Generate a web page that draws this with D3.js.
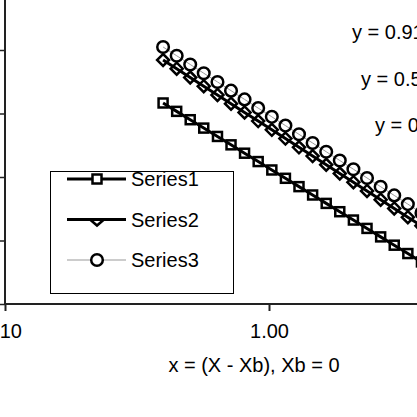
<!DOCTYPE html>
<html>
<head>
<meta charset="utf-8">
<script src="https://cdn.jsdelivr.net/npm/d3@7"></script>
<style>
  body { margin: 0; background: #fff; }
  text { font-family: "Liberation Sans", Arial, sans-serif; }
</style>
</head>
<body>
<svg id="chart"></svg>
<script>
// x values (log axis)
const xValues = [0.397, 0.447, 0.503, 0.566, 0.638, 0.718, 0.808, 0.910, 1.025, 1.154,
                 1.299, 1.463, 1.647, 1.854, 2.088, 2.351, 2.648, 2.981, 3.357, 3.780];

const series1 = [1.464, 1.081, 0.798, 0.589, 0.435, 0.321, 0.237, 0.175, 0.129, 0.0954,
                 0.0705, 0.0521, 0.0384, 0.0284, 0.0210, 0.0155, 0.0114, 0.00844, 0.00623, 0.00460];
const series2 = [6.96, 5.07, 3.69, 2.69, 1.962, 1.429, 1.041, 0.759, 0.553, 0.403,
                 0.2935, 0.2139, 0.1559, 0.1135, 0.0827, 0.0603, 0.0439, 0.0320, 0.0233, 0.0170];
const series3 = [11.15, 8.12, 5.92, 4.31, 3.14, 2.29, 1.668, 1.216, 0.886, 0.645,
                 0.470, 0.343, 0.250, 0.182, 0.1326, 0.0966, 0.0704, 0.0513, 0.0374, 0.0272];

const seriesNames = ["Series1", "Series2", "Series3"];
const equations = ["y = 0.9127x", "y = 0.5634x", "y = 0.1421x"];
const eqPowers = ["-2.7468", "-2.7468", "-2.5562"];

const xTicks = [0.1, 1, 10];
const yTicks = [0.001, 0.01, 0.1, 1, 10];

const W = 417, H = 417;
const svg = d3.select("#chart").attr("width", W).attr("height", H);

// scales
const x = d3.scaleLog().domain([0.1, 1]).range([5, 269]);
const y = d3.scaleLog().domain([0.001, 100]).range([304, -13.5]);

// axes
const xAxis = svg.append("g")
  .attr("transform", "translate(0,304)")
  .call(d3.axisBottom(x).tickValues(xTicks).tickSize(7).tickPadding(13).tickFormat(d3.format(".2f")));
xAxis.select(".domain").attr("d", "M5,0H420").attr("stroke", "#222").attr("stroke-width", 2);
xAxis.selectAll(".tick line").attr("stroke", "#222").attr("stroke-width", 2);
xAxis.selectAll("text").attr("font-size", 20).attr("fill", "#000")
  .attr("dx", d => d === 0.1 ? -3 : 0)
  .style("font-family", "'Liberation Sans', Arial, sans-serif");

const yAxis = svg.append("g")
  .attr("transform", "translate(5,0)")
  .call(d3.axisLeft(y).tickValues(yTicks).tickSize(6).tickPadding(6).tickFormat(d3.format(".3f")));
yAxis.select(".domain").attr("d", "M0,-5V304").attr("stroke", "#222").attr("stroke-width", 2);
yAxis.selectAll(".tick line").attr("stroke", "#222").attr("stroke-width", 1.5);
yAxis.selectAll("text").attr("font-size", 20).attr("fill", "#000")
  .style("font-family", "'Liberation Sans', Arial, sans-serif");

// axis title
svg.append("text")
  .attr("x", 254).attr("y", 372)
  .attr("text-anchor", "middle")
  .attr("font-size", 20)
  .text("x = (X - Xb), Xb = 0");

const line = d3.line().x(d => x(d[0])).y(d => y(d[1]));
const pts = s => xValues.map((v, i) => [v, s[i]]);

// Series3: thin gray line, circles
svg.append("path").datum(pts(series3))
  .attr("d", line).attr("fill", "none").attr("stroke", "#999").attr("stroke-width", 1);
// Series2: thick line, diamonds
svg.append("path").datum(pts(series2))
  .attr("d", line).attr("fill", "none").attr("stroke", "#000").attr("stroke-width", 3);
// Series1: thick line, squares
svg.append("path").datum(pts(series1))
  .attr("d", line).attr("fill", "none").attr("stroke", "#000").attr("stroke-width", 3);

const diamond = "M0,-6L6,0L0,6L-6,0Z";

svg.selectAll(".s2").data(pts(series2)).enter().append("path")
  .attr("class", "s2")
  .attr("d", diamond)
  .attr("transform", d => `translate(${x(d[0])},${y(d[1])})`)
  .attr("fill", "none").attr("stroke", "#000").attr("stroke-width", 2.5);

svg.selectAll(".s3").data(pts(series3)).enter().append("circle")
  .attr("class", "s3")
  .attr("cx", d => x(d[0])).attr("cy", d => y(d[1])).attr("r", 5.8)
  .attr("fill", "none").attr("stroke", "#000").attr("stroke-width", 2.5);

svg.selectAll(".s1").data(pts(series1)).enter().append("rect")
  .attr("class", "s1")
  .attr("x", d => x(d[0]) - 4.5).attr("y", d => y(d[1]) - 4.5)
  .attr("width", 9).attr("height", 9)
  .attr("fill", "none").attr("stroke", "#000").attr("stroke-width", 2.5);

// trendline equations (cut off at the right edge)
const eqPos = [[352, 39], [361, 86], [375, 132]];
equations.forEach((eq, i) => {
  const t = svg.append("text")
    .attr("x", eqPos[i][0]).attr("y", eqPos[i][1])
    .attr("font-size", 20).text(eq);
  t.append("tspan").attr("dy", -8).attr("font-size", 13).text(eqPowers[i]);
});

// legend
const lg = svg.append("g");
lg.append("rect")
  .attr("x", 50.5).attr("y", 171.5).attr("width", 183).attr("height", 122)
  .attr("fill", "#fff").attr("stroke", "#000").attr("stroke-width", 1);

const rowY = [179, 219.5, 260];
seriesNames.forEach((name, i) => {
  const yy = rowY[i];
  lg.append("line")
    .attr("x1", 67).attr("x2", 126).attr("y1", yy).attr("y2", yy)
    .attr("stroke", i === 2 ? "#999" : "#000")
    .attr("stroke-width", i === 2 ? 1 : 3);
  if (i === 0) {
    lg.append("rect").attr("x", 92.5).attr("y", yy - 4.5).attr("width", 9).attr("height", 9)
      .attr("fill", "#fff").attr("stroke", "#000").attr("stroke-width", 2.5);
  } else if (i === 1) {
    lg.append("path").attr("d", `M90,${yy}L97,${yy + 6}L104,${yy}`)
      .attr("fill", "none").attr("stroke", "#000").attr("stroke-width", 2.5);
  } else {
    lg.append("circle").attr("cx", 97).attr("cy", yy).attr("r", 5.8)
      .attr("fill", "#fff").attr("stroke", "#000").attr("stroke-width", 2.5);
  }
  lg.append("text")
    .attr("x", 131).attr("y", yy + 7)
    .attr("font-size", 20).text(name);
});
</script>
</body>
</html>
